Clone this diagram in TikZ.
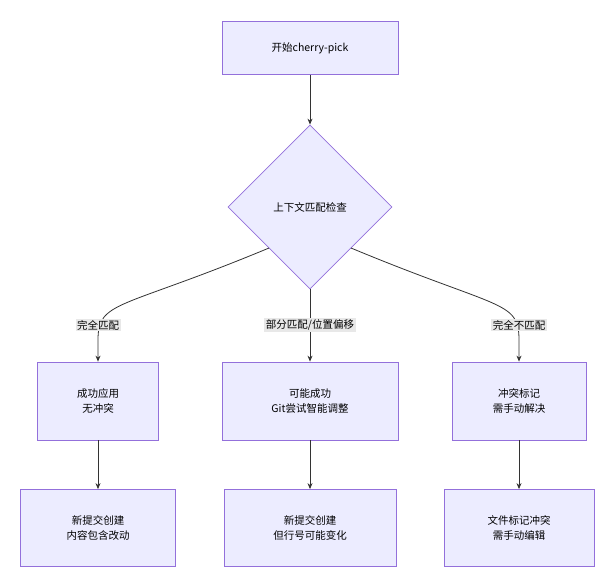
\documentclass[tikz,border=0pt]{standalone}
\usepackage{fontspec}
\setmainfont{Noto Sans CJK SC}
\usetikzlibrary{shapes.geometric,arrows.meta}
\definecolor{nfill}{HTML}{ECECFF}
\definecolor{nstroke}{HTML}{9370DB}
\definecolor{lbg}{HTML}{E8E8E8}
\begin{document}
\begin{tikzpicture}[x=1pt,y=-1pt,
 box/.style={draw=nstroke,fill=nfill,line width=0.8pt,align=center,font=\fontsize{10.5}{15}\selectfont,inner sep=0pt},
 lab/.style={fill=lbg,font=\fontsize{10.5}{13}\selectfont,inner sep=1.5pt},
 arr/.style={draw=black!80,line width=0.8pt,-{Stealth[length=6pt,width=5pt]}}]
\useasboundingbox (0,0) rectangle (612,574);
\node[box,minimum width=176pt,minimum height=53pt] (s) at (310,48) {开始cherry-pick};
\node[box,diamond,minimum width=164pt,minimum height=164pt] (d) at (310,207) {上下文匹配检查};
\node[box,minimum width=121pt,minimum height=78pt] (a1) at (98,401) {成功应用\\无冲突};
\node[box,minimum width=176pt,minimum height=78pt] (b1) at (310,401) {可能成功\\Git尝试智能调整};
\node[box,minimum width=134pt,minimum height=78pt] (c1) at (519,401) {冲突标记\\需手动解决};
\node[box,minimum width=155pt,minimum height=77pt] (a2) at (98,528) {新提交创建\\内容包含改动};
\node[box,minimum width=172pt,minimum height=77pt] (b2) at (310,528) {新提交创建\\但行号可能变化};
\node[box,minimum width=150pt,minimum height=77pt] (c2) at (519,528) {文件标记冲突\\需手动编辑};
\coordinate (dl) at (269,248);
\coordinate (dr) at (351,248);
\draw[arr] (s) -- (d);
\draw[arr] (dl) .. controls (120,310) and (98,300) .. (98,340) -- (a1);
\draw[arr] (d) -- (b1);
\draw[arr] (dr) .. controls (500,310) and (519,300) .. (519,340) -- (c1);
\node[lab] (la) at (98,325) {完全匹配};
\node[lab] (lb) at (310,325) {部分匹配/位置偏移};
\node[lab] (lc) at (519,325) {完全不匹配};
\draw[arr] (a1) -- (a2);
\draw[arr] (b1) -- (b2);
\draw[arr] (c1) -- (c2);
\end{tikzpicture}
\end{document}
